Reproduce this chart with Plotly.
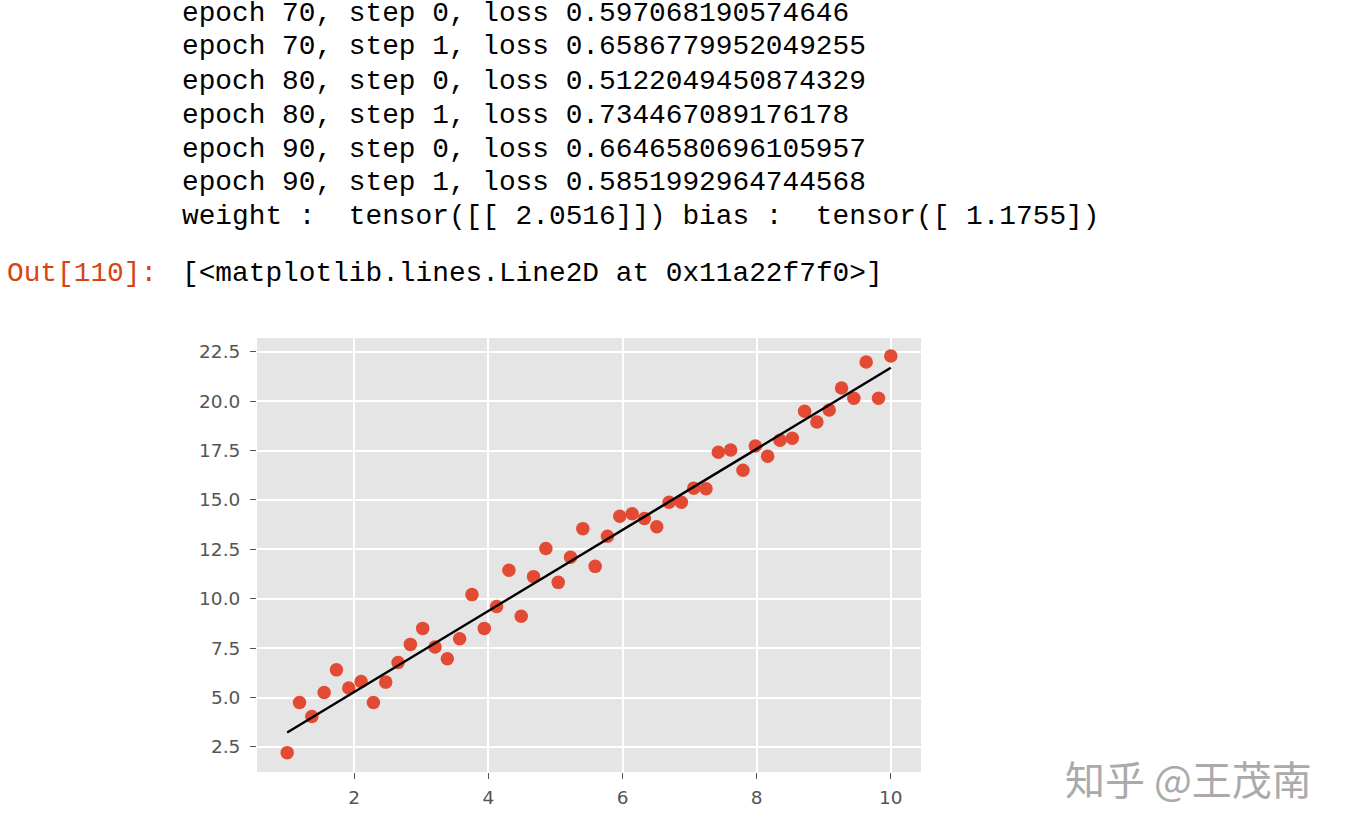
import numpy as np
import plotly.graph_objects as go

# ---- data ----
x_vals = np.linspace(1, 10, 50)
y_vals = [2.21, 4.75, 4.04, 5.25, 6.40, 5.48, 5.81, 4.75, 5.78, 6.77,
          7.69, 8.50, 7.56, 6.96, 7.98, 10.21, 8.50, 9.61, 11.44, 9.11,
          11.12, 12.54, 10.83, 12.10, 13.55, 11.64, 13.16, 14.18, 14.30, 14.06,
          13.64, 14.89, 14.89, 15.60, 15.57, 17.42, 17.53, 16.50, 17.73, 17.22,
          18.03, 18.12, 19.49, 18.95, 19.55, 20.67, 20.15, 21.99, 20.15, 22.29]
weight = 2.0516
bias = 1.1755
fit_x = [1, 10]
fit_y = [weight * v + bias for v in fit_x]

x_ticks = [2, 4, 6, 8, 10]
y_ticks = [2.5, 5.0, 7.5, 10.0, 12.5, 15.0, 17.5, 20.0, 22.5]

log_lines = [
    "epoch 70, step 0, loss 0.597068190574646",
    "epoch 70, step 1, loss 0.6586779952049255",
    "epoch 80, step 0, loss 0.5122049450874329",
    "epoch 80, step 1, loss 0.734467089176178",
    "epoch 90, step 0, loss 0.6646580696105957",
    "epoch 90, step 1, loss 0.5851992964744568",
    "weight :  tensor([[ 2.0516]]) bias :  tensor([ 1.1755])",
]
out_prompt = "Out[110]:"
out_text = "[<matplotlib.lines.Line2D at 0x11a22f7f0>]"
watermark = "知乎 @王茂南"

W, H = 1348, 834

fig = go.Figure()
fig.add_trace(go.Scatter(x=x_vals, y=y_vals, mode="markers",
                         marker=dict(color="#E24A33", size=13.5, line=dict(width=0)),
                         showlegend=False))
fig.add_trace(go.Scatter(x=fit_x, y=fit_y, mode="lines",
                         line=dict(color="black", width=2.5), showlegend=False))

mono = "Liberation Mono, DejaVu Sans Mono, monospace"
annotations = []
for i, t in enumerate(log_lines):
    annotations.append(dict(text=t.replace(" ", "&nbsp;"), x=180 / W, y=1 - (13 + 34 * i) / H,
                            xref="paper", yref="paper", xanchor="left", yanchor="middle",
                            showarrow=False, font=dict(family=mono, size=27.8, color="black")))
annotations.append(dict(text=out_prompt, x=5 / W, y=1 - 274 / H, xref="paper", yref="paper",
                        xanchor="left", yanchor="middle", showarrow=False,
                        font=dict(family=mono, size=27.8, color="#D84315")))
annotations.append(dict(text=out_text, x=180 / W, y=1 - 274 / H, xref="paper", yref="paper",
                        xanchor="left", yanchor="middle", showarrow=False,
                        font=dict(family=mono, size=27.8, color="black")))
annotations.append(dict(text=watermark, x=1314 / W, y=1 - 778 / H, xref="paper", yref="paper",
                        xanchor="right", yanchor="middle", showarrow=False,
                        font=dict(family="Noto Sans CJK SC", size=40, color="#aaaaaa")))

tickfont = dict(family="DejaVu Sans", size=18.5, color="#555555")
fig.update_layout(
    width=W, height=H, margin=dict(l=0, r=0, t=0, b=0),
    paper_bgcolor="white", plot_bgcolor="#E5E5E5",
    annotations=annotations,
    xaxis=dict(domain=[257 / W, 921 / W], range=[0.55, 10.45], tickvals=x_ticks,
               ticktext=[str(v) for v in x_ticks], showgrid=True, gridcolor="white",
               gridwidth=1.5, zeroline=False, ticks="outside", ticklen=6, tickwidth=1.2,
               tickcolor="#555555", tickfont=tickfont, ticklabelstandoff=3,
               showline=False),
    yaxis=dict(domain=[1 - 772 / H, 1 - 338 / H], range=[1.23, 23.2], tickvals=y_ticks,
               ticktext=[f"{v:.1f}" for v in y_ticks], showgrid=True, gridcolor="white",
               gridwidth=1.5, zeroline=False, ticks="outside", ticklen=6, tickwidth=1.2,
               tickcolor="#555555", tickfont=tickfont, ticklabelstandoff=6,
               showline=False),
)

fig.write_html("out.html", config={"displayModeBar": False},
               post_script="document.body.style.margin='0';document.body.style.overflow='hidden';")
